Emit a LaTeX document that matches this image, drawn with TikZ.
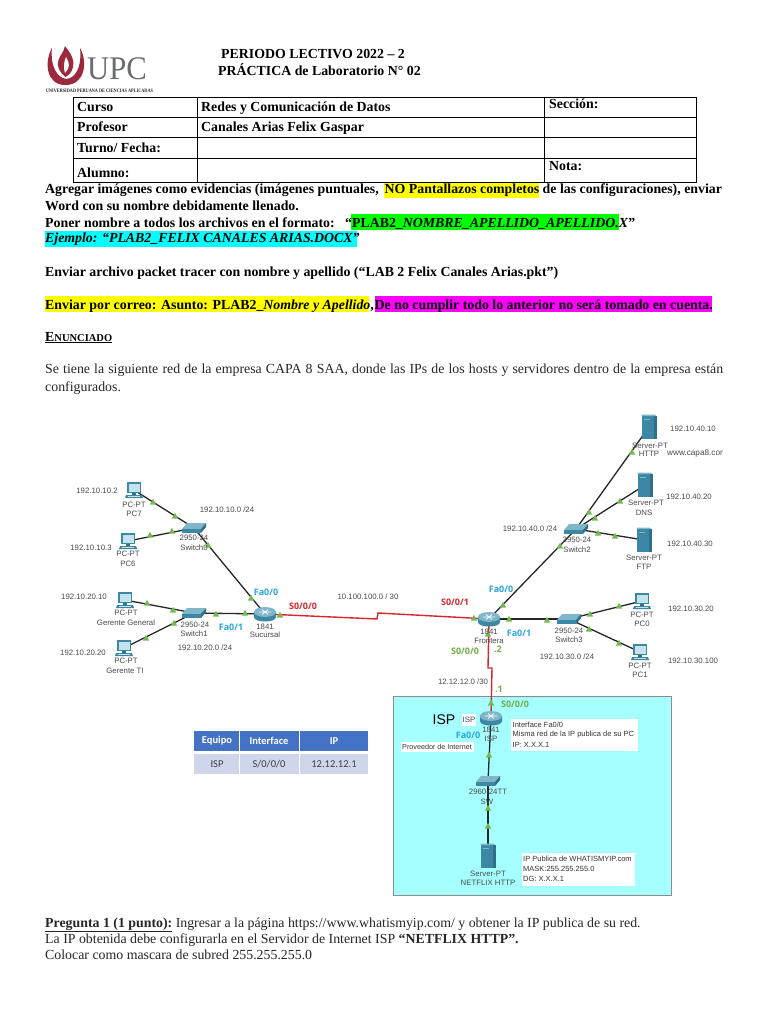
\documentclass[tikz,border=0pt]{standalone}
\usepackage{fontspec}
\setmainfont{Liberation Serif}
\setsansfont{Liberation Sans}
\newfontfamily\calfont{Carlito}
\newfontfamily\ifacefont{Open Sans}
\definecolor{hlyellow}{HTML}{FFFF00}
\definecolor{hlgreen}{HTML}{00FF00}
\definecolor{hlcyan}{HTML}{00FFFF}
\definecolor{hlmag}{HTML}{FF00FF}
\definecolor{upcred}{HTML}{9C2A3C}
\definecolor{upcgray}{HTML}{6A6C70}
\definecolor{txtgray}{HTML}{4A4A4A}
\definecolor{teal1}{HTML}{3C87A3}
\definecolor{teal2}{HTML}{2F6F88}
\definecolor{teal3}{HTML}{7FB6C9}
\definecolor{screen}{HTML}{C4E3EC}
\definecolor{trigreen}{HTML}{74B94F}
\definecolor{lblblue}{HTML}{29A6DE}
\definecolor{lblred}{HTML}{D8262C}
\definecolor{lblgreen}{HTML}{70AD47}
\definecolor{ispbg}{HTML}{A6FFFF}
\definecolor{thead}{HTML}{4472C4}
\definecolor{trow}{HTML}{CFD5EA}
\tikzset{
  body/.style={anchor=base west,inner sep=0pt,font=\fontsize{13.85}{15}\selectfont\bfseries,text=black},
  plainbody/.style={anchor=base west,inner sep=0pt,font=\fontsize{13.85}{15}\selectfont,text=black!85},
  cell/.style={anchor=base west,inner sep=0pt,font=\fontsize{13.85}{15}\selectfont\bfseries},
  lab/.style={inner sep=0pt,font=\fontsize{7.8}{9}\sffamily,text=txtgray},
  ifblue/.style={inner sep=0pt,font=\fontsize{9}{11}\ifacefont\bfseries,text=lblblue},
  ifred/.style={inner sep=0pt,font=\fontsize{9}{11}\ifacefont\bfseries,text=lblred},
  ifgreen/.style={inner sep=0pt,font=\fontsize{9}{11}\ifacefont\bfseries,text=lblgreen},
  note/.style={anchor=west,inner sep=0pt,font=\fontsize{7.5}{9}\sffamily,text=black!80},
  dev/.style={inner sep=0pt,minimum size=2pt},
  lan/.style={draw=black!85,line width=1.3pt},
  wan/.style={draw=lblred,line width=1.4pt},
  grid/.style={draw=black,line width=.8pt},
  thcell/.style={fill=thead},
  trcell/.style={fill=trow},
  thtext/.style={inner sep=0pt,font=\fontsize{10.5}{12}\calfont\bfseries,text=white},
  trtext/.style={inner sep=0pt,font=\fontsize{10.5}{12}\calfont,text=black!75},
  pcicon/.pic={
    \fill[teal1] (-7,-8) rectangle (7,3);
    \fill[screen] (-5.5,-6.5) rectangle (5.5,1.5);
    \fill[teal2] (-2,3) rectangle (2,5);
    \fill[teal1] (-8,5) -- (8,5) -- (9,8) -- (-9,8) -- cycle;
    \fill[screen] (-6,6) rectangle (6,6.7);
  },
  servericon/.pic={
    \fill[teal1] (-7.5,-11) rectangle (7.5,12);
    \fill[teal2] (4.5,-11) rectangle (7.5,12);
    \fill[teal3] (-7.5,-12.5) -- (5,-12.5) -- (7.5,-11) -- (-7.5,-11) -- cycle;
    \fill[teal3] (-5,-8.5) rectangle (1,-7.5);
  },
  switchicon/.pic={
    \fill[teal3] (-7,-5) -- (12,-5) -- (7,1) -- (-12,1) -- cycle;
    \fill[teal1] (-12,1) rectangle (7,5);
    \fill[teal2] (7,1) -- (12,-5) -- (12,-1) -- (7,5) -- cycle;
  },
  routericon/.pic={
    \fill[teal1] (-11,-2) -- (-11,3) .. controls (-11,9) and (11,9) .. (11,3) -- (11,-2) -- cycle;
    \fill[teal3] (-11,-2) .. controls (-11,-8.5) and (11,-8.5) .. (11,-2)
       .. controls (11,4.5) and (-11,4.5) .. (-11,-2) -- cycle;
    \draw[white,line width=.7pt] (-6,-2) -- (6,-2) (-3,-4.5) -- (3,.5) (3,-4.5) -- (-3,.5);
  }
}
\newcommand{\tri}[2]{\fill[trigreen] (#1-3.2,#2+2.6) -- (#1+3.2,#2+2.6) -- (#1,#2-3.2) -- cycle;}
\begin{document}
\begin{tikzpicture}[x=1pt,y=-1pt]
\useasboundingbox (0,0) rectangle (768,1024);
\fill[white] (0,0) rectangle (768,1024);

% logo
\fill[upcred] (52,48) .. controls (44,62) and (46,85) .. (65.5,85)
  .. controls (85,85) and (88,62) .. (80,48)
  .. controls (82,64) and (77,78) .. (66.5,79)
  .. controls (56,78) and (50,64) .. (52,48) -- cycle;
\fill[upcred] (65,46) .. controls (71,54) and (75,60) .. (73,67)
  .. controls (72,72) and (69,75) .. (65.5,77)
  .. controls (60,73) and (56,66) .. (58.5,60)
  .. controls (60,55) and (64,52) .. (65,46) -- cycle;
\fill[white] (66,57) .. controls (70,63) and (70,68) .. (65,73)
  .. controls (63,67) and (64,62) .. (66,57) -- cycle;
\node[anchor=base west,inner sep=0pt,text=upcgray,font=\fontsize{33}{33}\selectfont] (upc) at (87,80) {\scalebox{.93}[1]{UPC}};
\node[anchor=center,inner sep=0pt,text=black!85,font=\bfseries] (upcsub) at (99.5,90.5) {\resizebox{107pt}{3.4pt}{UNIVERSIDAD PERUANA DE CIENCIAS APLICADAS}};

% header
\node[body] (h1) at (221,58.5) {PERIODO LECTIVO 2022 – 2};
\node[body] (h2) at (218,75.5) {PRÁCTICA de Laboratorio N° 02};

% table
\draw[grid] (73,97) rectangle (696,182);
\draw[grid] (73,117) -- (696,117) (73,137) -- (696,137) (73,158.5) -- (696,158.5);
\draw[grid] (197,97) -- (197,182) (544,97) -- (544,182);
\node[cell] (c1) at (77,112) {Curso};
\node[cell] (c2) at (77,132) {Profesor};
\node[cell] (c3) at (77,153) {Turno/ Fecha:};
\node[cell] (c4) at (77,178) {Alumno:};
\node[cell] (c5) at (201,112) {Redes y Comunicación de Datos};
\node[cell] (c6) at (201,132) {Canales Arias Felix Gaspar};
\node[cell] (c7) at (549,109) {Sección:};
\node[cell] (c8) at (549,171) {Nota:};

% highlights
\fill[hlyellow] (384,183) rectangle (539,198);
\fill[hlgreen] (351,214) rectangle (618.5,230);
\fill[hlcyan] (45,231) rectangle (357,247);
\fill[hlyellow] (45,296) rectangle (369,312);
\fill[hlmag] (374.5,296) rectangle (711.5,312);

% instructions
\node[body] (l1a) at (45,194) {Agregar imágenes como evidencias (imágenes puntuales,};
\node[body] (l1b) at (384.5,194) {NO Pantallazos completos};
\node[body] (l1c) at (542.5,194) {de las configuraciones), enviar};
\node[body] (l2) at (45,211) {Word con su nombre debidamente llenado.};
\node[body] (l3a) at (45,227) {Poner nombre a todos los archivos en el formato:};
\node[body] (l3b) at (345,227) {“PLAB2\_\textit{NOMBRE\_APELLIDO\_APELLIDO.X}”};
\node[body] (l4) at (45,243) {\textit{Ejemplo: “PLAB2\_FELIX CANALES ARIAS.DOCX”}};
\node[body] (l5) at (45,276) {Enviar archivo packet tracer con nombre y apellido (“LAB 2 Felix Canales Arias.pkt”)};
\node[body] (l6a) at (45,309) {Enviar por correo: Asunto: PLAB2\_\textit{Nombre y Apellido},};
\node[body] (l6b) at (374.5,309) {De no cumplir todo lo anterior no será tomado en cuenta.};
\node[body] (l7) at (45,341) {\underline{E{\fontsize{10.5}{12}\selectfont NUNCIADO}}};
\node[plainbody] (l8) at (45,373) {\makebox[678pt][s]{Se tiene la siguiente red de la empresa CAPA 8 SAA, donde las IPs de los hosts y servidores dentro de la empresa están}};
\node[plainbody] (l9) at (45,391) {configurados.};

% isp area
\fill[ispbg] (393,696) rectangle (671,895);
\draw[black!45,line width=1pt] (393,696) rectangle (671,895);

% devices
\node[dev] (pc7) at (134,490) {};
\node[dev] (pc6) at (128,541) {};
\node[dev] (gg) at (125,600) {};
\node[dev] (gti) at (124,648) {};
\node[dev] (sw0) at (194,528) {};
\node[dev] (sw1) at (194,613) {};
\node[dev] (suc) at (265,614) {};
\node[dev] (fro) at (489,619) {};
\node[dev] (sw2) at (576,529) {};
\node[dev] (sw3) at (569,619) {};
\node[dev] (http) at (649,427) {};
\node[dev] (dns) at (645,485) {};
\node[dev] (ftp) at (644,540) {};
\node[dev] (pc0) at (642,601) {};
\node[dev] (pc1) at (640,652) {};
\node[dev] (isp) at (491,718) {};
\node[dev] (sw) at (488,781) {};
\node[dev] (nfx) at (488,856) {};
\coordinate (ja) at (377,619);
\coordinate (jb) at (378,613);
\coordinate (jc) at (488,668);
\coordinate (jd) at (492,668);

% links
\draw[lan] (pc7) -- (sw0);
\draw[lan] (pc6) -- (sw0);
\draw[lan] (sw0) -- (suc);
\draw[lan] (gg) -- (sw1);
\draw[lan] (gti) -- (sw1);
\draw[lan] (sw1) -- (suc);
\draw[lan] (fro) -- (sw2);
\draw[lan] (sw2) -- (http);
\draw[lan] (sw2) -- (dns);
\draw[lan] (sw2) -- (ftp);
\draw[lan] (fro) -- (sw3);
\draw[lan] (sw3) -- (pc0);
\draw[lan] (sw3) -- (pc1);
\draw[lan] (isp) -- (sw);
\draw[lan] (sw) -- (nfx);
\draw[wan] (suc) -- (ja) -- (jb) -- (fro);
\draw[wan] (fro) -- (jc) -- (jd) -- (isp);

% icons
\pic at (pc7) {pcicon};
\pic at (pc6) {pcicon};
\pic at (gg) {pcicon};
\pic at (gti) {pcicon};
\pic at (pc0) {pcicon};
\pic at (pc1) {pcicon};
\pic at (sw0) {switchicon};
\pic at (sw1) {switchicon};
\pic at (sw2) {switchicon};
\pic at (sw3) {switchicon};
\pic at (sw) {switchicon};
\pic at (suc) {routericon};
\pic at (fro) {routericon};
\pic at (isp) {routericon};
\pic at (http) {servericon};
\pic at (dns) {servericon};
\pic at (ftp) {servericon};
\pic at (nfx) {servericon};

% link markers
\tri{153}{502}\tri{175}{516}\tri{150}{535}\tri{172}{531}\tri{208}{545}\tri{251}{598}
\tri{147}{603}\tri{173}{610}\tri{174}{623}\tri{146}{638}\tri{216}{614}\tri{245}{613}\tri{280}{615}
\tri{632}{452}\tri{589}{512}\tri{595}{518}\tri{620}{501}\tri{560}{546}\tri{598}{533}\tri{615}{536}
\tri{590}{614}\tri{619}{606}\tri{589}{629}\tri{619}{643}\tri{503}{605}\tri{509}{619}\tri{547}{620}
\tri{474}{618}\tri{488}{634}\tri{491}{703}\tri{489}{755}\tri{488}{808}\tri{488}{826}

% device labels
\node[lab] (t1) at (134,505) {PC-PT};
\node[lab] (t2) at (134,514) {PC7};
\node[lab] (t3) at (97,491) {192.10.10.2};
\node[lab] (t4) at (128,554) {PC-PT};
\node[lab] (t5) at (128,564) {PC6};
\node[lab] (t6) at (91,548) {192.10.10.3};
\node[lab] (t7) at (194,538) {2950-24};
\node[lab] (t8) at (194,548) {Switch0};
\node[lab] (t9) at (227,510) {192.10.10.0 /24};
\node[lab] (t10) at (126,613) {PC-PT};
\node[lab] (t11) at (126,623) {Gerente General};
\node[lab] (t12) at (84,597) {192.10.20.10};
\node[lab] (t13) at (126,661) {PC-PT};
\node[lab] (t14) at (125,671) {Gerente TI};
\node[lab] (t15) at (83,653) {192.10.20.20};
\node[lab] (t16) at (195,625) {2950-24};
\node[lab] (t17) at (194,634) {Switch1};
\node[lab] (t18) at (205,648) {192.10.20.0 /24};
\node[lab] (t19) at (265,627) {1841};
\node[lab] (t20) at (265,635) {Sucursal};
\node[lab] (t21) at (368,597) {10.100.100.0 / 30};
\node[lab] (t22) at (489,632) {1841};
\node[lab] (t23) at (489,641) {Frontera};
\node[lab] (t24) at (463,682) {12.12.12.0 /30};
\node[lab] (t25) at (577,540) {2950-24};
\node[lab] (t26) at (577,550) {Switch2};
\node[lab] (t27) at (530,529) {192.10.40.0 /24};
\node[lab] (t28) at (650,446) {Server-PT};
\node[lab] (t29) at (649,454) {HTTP};
\node[lab] (t30) at (693,429) {192.10.40.10};
\begin{scope}
\clip (660,440) rectangle (722,465);
\node[lab,anchor=west,font=\fontsize{8.2}{9}\sffamily] (t31) at (667,453) {www.capa8.com};
\end{scope}
\node[lab] (t32) at (646,503) {Server-PT};
\node[lab] (t33) at (644,513) {DNS};
\node[lab] (t34) at (689,497) {192.10.40.20};
\node[lab] (t35) at (644,558) {Server-PT};
\node[lab] (t36) at (644,567) {FTP};
\node[lab] (t37) at (690,544) {192.10.40.30};
\node[lab] (t38) at (642,615) {PC-PT};
\node[lab] (t39) at (642,624) {PC0};
\node[lab] (t40) at (691,609) {192.10.30.20};
\node[lab] (t41) at (640,666) {PC-PT};
\node[lab] (t42) at (640,675) {PC1};
\node[lab] (t43) at (693,661) {192.10.30.100};
\node[lab] (t44) at (569,631) {2950-24};
\node[lab] (t45) at (569,640) {Switch3};
\node[lab] (t46) at (567,657) {192.10.30.0 /24};
\node[lab] (t47) at (491,730) {1841};
\node[lab] (t48) at (491,739) {ISP};
\node[lab] (t49) at (488,792) {2960-24TT};
\node[lab] (t50) at (487,802) {SW};
\node[lab] (t51) at (488,874) {Server-PT};
\node[lab] (t52) at (488,883) {NETFLIX HTTP};

% interface labels
\node[ifblue] (i1) at (266,592) {Fa0/0};
\node[ifblue] (i2) at (231,627) {Fa0/1};
\node[ifred] (i3) at (303,606) {S0/0/0};
\node[ifred] (i4) at (455,602) {S0/0/1};
\node[ifblue] (i5) at (501,589) {Fa0/0};
\node[ifblue] (i6) at (519,633) {Fa0/1};
\node[ifgreen] (i7) at (465,651) {S0/0/0};
\node[ifgreen] (i8) at (498,649) {.2};
\node[ifgreen] (i9) at (499,689) {.1};
\node[ifgreen] (i10) at (515,704) {S0/0/0};
\node[ifblue] (i11) at (468,735) {Fa0/0};

% notes in the isp area
\node[inner sep=0pt,font=\fontsize{14}{16}\sffamily,text=black] (bigisp) at (444,720) {ISP};
\fill[white] (462,714) rectangle (476,726);
\node[lab] (smallisp) at (469,720) {ISP};
\fill[white] (401,742) rectangle (474,752);
\node[note] (prov) at (402,747) {\fontsize{7.2}{9}\selectfont Proveedor de Internet};
\fill[white] (511,719) rectangle (638,751);
\node[note] (n1) at (512.5,725) {Interface Fa0/0};
\node[note] (n2) at (512.5,735) {Misma red de la IP publica de su PC};
\node[note] (n3) at (512.5,745) {IP: X.X.X.1};
\fill[white] (522,853) rectangle (635,886);
\node[note] (n4) at (523,859) {IP Publica de WHATISMYIP.com};
\node[note] (n5) at (523,869) {MASK:255.255.255.0};
\node[note] (n6) at (523,879) {DG: X.X.X.1};

% small table
\fill[thcell] (194,731) rectangle (238.5,751);
\fill[thcell] (239.5,731) rectangle (298.5,751);
\fill[thcell] (299.5,731) rectangle (368,751);
\fill[trcell] (194,754) rectangle (238.5,774);
\fill[trcell] (239.5,754) rectangle (298.5,774);
\fill[trcell] (299.5,754) rectangle (368,774);
\node[thtext] (th1) at (217,741) {Equipo};
\node[thtext] (th2) at (269,741) {Interface};
\node[thtext] (th3) at (334,741) {IP};
\node[trtext] (tr1) at (217,764) {ISP};
\node[trtext] (tr2) at (269,764) {S/0/0/0};
\node[trtext] (tr3) at (334,764) {12.12.12.1};

% question
\node[plainbody] (q1) at (45,927) {\textbf{\underline{Pregunta 1 (1 punto):}} Ingresar a la página https://www.whatismyip.com/ y obtener la IP publica de su red.};
\node[plainbody] (q2) at (45,943) {La IP obtenida debe configurarla en el Servidor de Internet ISP \textbf{“NETFLIX HTTP”.}};
\node[plainbody] (q3) at (45,959) {Colocar como mascara de subred 255.255.255.0};
\end{tikzpicture}
\end{document}
